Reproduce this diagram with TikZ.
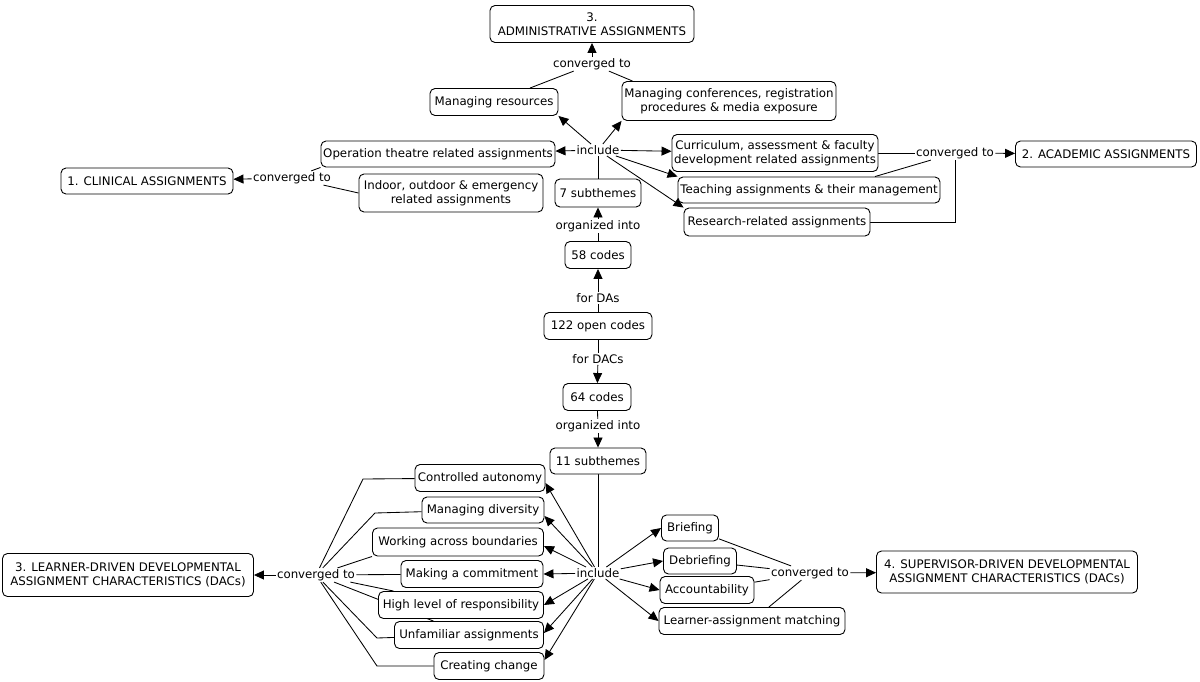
\documentclass[tikz,border=0pt]{standalone}
\usepackage{fontspec}
\setmainfont{DejaVu Sans}
\usetikzlibrary{arrows.meta}
\pgfdeclarelayer{bg}
\pgfsetlayers{bg,main}
\begin{document}
\begin{tikzpicture}[x=1pt,y=-1pt,
  font=\fontsize{11.8}{14}\selectfont,
  box/.style={draw, rounded corners=5pt, fill=white, line width=0.9pt, inner sep=2pt, align=center},
  lbl/.style={inner sep=1.2pt},
  conn/.style={line width=0.85pt},
  arr/.style={conn, -{Triangle[length=10pt,width=9pt]}}]
\useasboundingbox (0,0) rectangle (1200,681);
% concepts
\node[box, minimum width=204pt, minimum height=37pt] (admin) at (592,24) {3.\\ADMINISTRATIVE ASSIGNMENTS};
\node[box, minimum width=128pt, minimum height=27pt] (mr) at (494,102) {Managing resources};
\node[box, minimum width=214pt, minimum height=39pt] (mc) at (729,101) {Managing conferences, registration\\procedures \& media exposure};
\node[box, minimum width=234pt, minimum height=26pt] (ot) at (438,154) {Operation theatre related assignments};
\node[box, minimum width=184pt, minimum height=38pt] (ind) at (451,193) {Indoor, outdoor \& emergency\\related assignments};
\node[box, minimum width=172pt, minimum height=26pt] (clin) at (147,181) {1. CLINICAL ASSIGNMENTS};
\node[box, minimum width=86pt, minimum height=28pt] (sub7) at (598,193) {7 subthemes};
\node[box, minimum width=206pt, minimum height=37pt] (cur) at (775,153) {Curriculum, assessment \& faculty\\development related assignments};
\node[box, minimum width=262pt, minimum height=26pt] (tea) at (809,190) {Teaching assignments \& their management};
\node[box, minimum width=186pt, minimum height=28pt] (res) at (777,222) {Research-related assignments};
\node[box, minimum width=181pt, minimum height=26pt] (acad) at (1106,154) {2. ACADEMIC ASSIGNMENTS};
\node[box, minimum width=66pt, minimum height=27pt] (c58) at (598,255) {58 codes};
\node[box, minimum width=108pt, minimum height=27pt] (c122) at (598,326) {122 open codes};
\node[box, minimum width=68pt, minimum height=27pt] (c64) at (597,397) {64 codes};
\node[box, minimum width=96pt, minimum height=26pt] (sub11) at (598,461) {11 subthemes};
\node[box, minimum width=130pt, minimum height=27pt] (ca) at (480,478) {Controlled autonomy};
\node[box, minimum width=122pt, minimum height=26pt] (md) at (483,510) {Managing diversity};
\node[box, minimum width=171pt, minimum height=28pt] (wab) at (458,542) {Working across boundaries};
\node[box, minimum width=142pt, minimum height=27pt] (mac) at (472,574) {Making a commitment};
\node[box, minimum width=165pt, minimum height=27pt] (hlr) at (461,605) {High level of responsibility};
\node[box, minimum width=149pt, minimum height=27pt] (ua) at (469,635) {Unfamiliar assignments};
\node[box, minimum width=110pt, minimum height=27pt] (cc) at (489,666) {Creating change};
\node[box, minimum width=251pt, minimum height=43pt] (ldac) at (128,575) {3. LEARNER-DRIVEN DEVELOPMENTAL\\ASSIGNMENT CHARACTERISTICS (DACs)};
\node[box, minimum width=57pt, minimum height=26pt] (br) at (690,528) {Briefing};
\node[box, minimum width=73pt, minimum height=26pt] (deb) at (700,561) {Debriefing};
\node[box, minimum width=94pt, minimum height=27pt] (acc) at (707,590) {Accountability};
\node[box, minimum width=186pt, minimum height=27pt] (lam) at (752,621) {Learner-assignment matching};
\node[box, minimum width=261pt, minimum height=42pt] (sdac) at (1007,572) {4. SUPERVISOR-DRIVEN DEVELOPMENTAL\\ASSIGNMENT CHARACTERISTICS (DACs)};
% linking phrases
\node[lbl] (tcl) at (592,64) {converged to};
\node[lbl] (tinc) at (598,150) {include};
\node[lbl] (ccl) at (292,178) {converged to};
\node[lbl] (acl) at (955,153) {converged to};
\node[lbl] (org1) at (598,226) {organized into};
\node[lbl] (fda) at (598,298) {for DAs};
\node[lbl] (fdac) at (598,359) {for DACs};
\node[lbl] (org2) at (598,426) {organized into};
\node[lbl] (binc) at (598,573) {include};
\node[lbl] (lcl) at (316,575) {converged to};
\node[lbl] (scl) at (810,573) {converged to};
\begin{pgfonlayer}{bg}
\fill[white] (0,0) rectangle (1200,681);
% top
\draw[conn] (mr) -- (tcl);
\draw[conn] ([xshift=11pt]mc.north west) -- (tcl);
\draw[arr] (tcl) -- (admin);
\draw[conn] (sub7) -- (tinc);
\draw[arr] (tinc) -- (ot);
\draw[arr] (tinc) -- (mr.south east);
\draw[arr] (tinc) -- (mc.south west);
\draw[arr] (tinc) -- (cur);
\draw[arr] (tinc) -- (tea.north west);
\draw[arr] (tinc) -- (res.north west);
% clinical
\draw[conn] (ot.south west) -- (ccl);
\draw[conn] (ind.west) -- (ccl);
\draw[arr] (ccl) -- (clin);
% academic
\draw[conn] (cur) -- (acl);
\draw[conn] ([xshift=66pt]tea.north) -- (acl);
\draw[conn] (acl.south) |- (res);
\draw[arr] (acl) -- (acad);
% chain
\draw[conn] (c58) -- (org1);
\draw[arr] (org1) -- (sub7);
\draw[conn] (c122) -- (fda);
\draw[arr] (fda) -- (c58);
\draw[conn] (c122) -- (fdac);
\draw[arr] (fdac) -- (c64);
\draw[conn] (c64) -- (org2);
\draw[arr] (org2) -- (sub11);
\draw[conn] (sub11) -- (binc);
% bottom include
\draw[arr] (binc) -- ([yshift=-5pt]ca.east);
\draw[arr] (binc) -- ([yshift=-6pt]md.east);
\draw[arr] (binc) -- ([yshift=-4pt]wab.east);
\draw[arr] (binc) -- (mac.east);
\draw[arr] (binc) -- (hlr.east);
\draw[arr] (binc) -- ([yshift=2pt]ua.east);
\draw[arr] (binc) -- ([yshift=6pt]cc.east);
\draw[arr] (binc) -- (br.west);
\draw[arr] (binc) -- (deb.west);
\draw[arr] (binc) -- (acc.west);
\draw[arr] (binc) -- (lam.west);
% learner
\draw[conn] (lcl) -- (363,479) -- (ca);
\draw[conn] (lcl) -- (375,513) -- (md);
\draw[conn] (lcl) -- (wab.south west);
\draw[conn] (lcl) -- (mac);
\draw[conn] (lcl) -- (hlr);
\draw[conn] (lcl) -- (ua);
\draw[conn] (lcl) -- (377,638) -- (ua);
\draw[conn] (lcl) -- (377,666) -- (cc);
\draw[arr] (lcl) -- (ldac);
% supervisor
\draw[conn] (br) -- (scl);
\draw[conn] (deb) -- (scl);
\draw[conn] (acc) -- (scl);
\draw[conn] (lam) -- (scl);
\draw[arr] (scl) -- (sdac);
\end{pgfonlayer}
\end{tikzpicture}
\end{document}
